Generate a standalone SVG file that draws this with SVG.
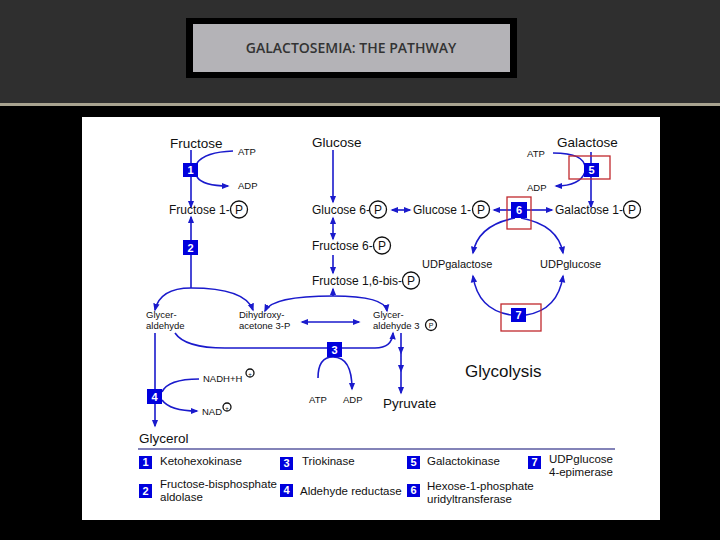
<svg xmlns="http://www.w3.org/2000/svg" width="720" height="540" viewBox="0 0 720 540">
<defs>
<marker id="ah" viewBox="0 0 10 10" refX="8" refY="5" markerWidth="5" markerHeight="5" orient="auto-start-reverse"><path d="M0,1 L10,5 L0,9 z" fill="#1a1acc"/></marker>
<style>
.t{font-family:"Liberation Sans",Arial,sans-serif;fill:#111}
.m{font-size:12px}.s{font-size:9.5px}.l{font-size:11.5px}.b{font-size:13.5px}
.c{fill:none;stroke:#1a1acc;stroke-width:1.6}
.a{marker-end:url(#ah)}.a2{marker-start:url(#ah);marker-end:url(#ah)}
.bx{fill:#0000dd}.bn{font-family:"Liberation Sans",Arial,sans-serif;font-weight:bold;font-size:11px;fill:#fff;text-anchor:middle}
.p{fill:#fff;stroke:#111;stroke-width:1.3}
.r{fill:none;stroke:#c0282d;stroke-width:1.3}
</style>
</defs>
<rect width="720" height="540" fill="#000"/>
<rect width="720" height="103" fill="#2f2f2f"/>
<rect y="103" width="720" height="3" fill="#a8a390"/>
<rect x="186" y="18" width="331" height="60" fill="#000"/>
<rect x="193" y="24" width="317" height="48" fill="#b4b3b7"/>
<text x="351" y="53" text-anchor="middle" style="font-family:'Open Sans',sans-serif;font-size:14px;font-weight:600;fill:#333">GALACTOSEMIA: THE PATHWAY</text>
<rect x="82" y="117" width="578" height="403" fill="#fff"/>

<g id="connectors">
<path class="c a" d="M191,150 V207"/>
<path class="c" d="M233,151 Q205,152 197,163"/>
<path class="c a" d="M197,177 Q203,186 228,186"/>
<path class="c a" d="M191,288 V217"/>
<path class="c a" d="M191,288 Q160,288 155,310"/>
<path class="c a" d="M191,288 Q245,288 253,310"/>
<path class="c a" d="M333,150 V202"/>
<path class="c a2" d="M333,218 V239"/>
<path class="c a" d="M333,255 V273"/>
<path class="c a" d="M333,296 V289"/>
<path class="c a" d="M333,296 Q272,296 265,311"/>
<path class="c a" d="M333,296 Q385,296 387,311"/>
<path class="c a2" d="M302,322 H359"/>
<path class="c" d="M175,333 Q185,348 225,348 H327"/>
<path class="c a" d="M342,348 H375 Q392,348 393,333"/>
<path class="c" d="M318,378 Q318,357 333,357"/>
<path class="c a" d="M333,357 Q352,357 352,389"/>
<path class="c a" d="M401,333 V353"/>
<path class="c a" d="M401,353 V371"/>
<path class="c a" d="M401,371 V393"/>
<path class="c a" d="M155,333 V426"/>
<path class="c" d="M199,379 Q168,379 162,392"/>
<path class="c a" d="M162,400 Q170,411 197,411"/>
<path class="c a" d="M591,152 V207"/>
<path class="c" d="M553,153 Q585,153 585,168"/>
<path class="c a" d="M585,172 Q580,186 556,186"/>
<path class="c a2" d="M392,210 H410"/>
<path class="c a" d="M511,210 H494"/>
<path class="c a" d="M527,210 H552"/>
<path class="c a" d="M515,218 Q478,225 473,253"/>
<path class="c a" d="M521,218 Q558,225 563,253"/>
<path class="c a" d="M511,315 Q478,310 473,276"/>
<path class="c a" d="M526,315 Q558,310 563,276"/>
<path d="M138,449 H615" stroke="#5a5aa0" stroke-width="1.5"/>
</g>

<g id="fructose"><text class="t b" x="170" y="148">Fructose</text></g>
<g id="k1"><rect class="bx" x="183" y="163" width="15" height="14"/><text class="bn" x="190.5" y="174">1</text></g>
<g id="atp1"><text class="t s" x="238" y="155">ATP</text></g>
<g id="adp1"><text class="t s" x="238" y="189">ADP</text></g>
<g id="f1p"><text class="t m" x="169" y="214">Fructose 1-</text><circle class="p" cx="239" cy="209.5" r="8.5"/><text class="t m" x="239" y="214" text-anchor="middle">P</text></g>
<g id="k2"><rect class="bx" x="183" y="240" width="15" height="15"/><text class="bn" x="190.5" y="252">2</text></g>
<g id="glucose"><text class="t b" x="312" y="147">Glucose</text></g>
<g id="g6p"><text class="t m" x="312" y="214">Glucose 6-</text><circle class="p" cx="378" cy="209.5" r="8.5"/><text class="t m" x="378" y="214" text-anchor="middle">P</text></g>
<g id="f6p"><text class="t m" x="312" y="250">Fructose 6-</text><circle class="p" cx="382" cy="245.5" r="8.5"/><text class="t m" x="382" y="250" text-anchor="middle">P</text></g>
<g id="f16p"><text class="t m" x="312" y="285">Fructose 1,6-bis-</text><circle class="p" cx="411" cy="280.5" r="8.5"/><text class="t m" x="411" y="285" text-anchor="middle">P</text></g>
<g id="glyceraldehyde"><text class="t s" x="146" y="318">Glycer-</text><text class="t s" x="146" y="329">aldehyde</text></g>
<g id="dhap"><text class="t s" x="239" y="318">Dihydroxy-</text><text class="t s" x="239" y="329">acetone 3-P</text></g>
<g id="g3p"><text class="t s" x="373" y="318">Glycer-</text><text class="t s" x="373" y="329">aldehyde 3</text><circle class="p" cx="431" cy="325" r="5.5"/><text class="t" x="431" y="328" text-anchor="middle" font-size="7">P</text></g>
<g id="k3"><rect class="bx" x="327" y="342" width="15" height="15"/><text class="bn" x="334.5" y="354">3</text></g>
<g id="atp3"><text class="t s" x="309" y="403">ATP</text></g>
<g id="adp3"><text class="t s" x="343" y="403">ADP</text></g>
<g id="pyruvate"><text class="t b" x="383" y="408">Pyruvate</text></g>
<g id="k4"><rect class="bx" x="147" y="389" width="15" height="15"/><text class="bn" x="154.5" y="401">4</text></g>
<g id="nadh"><text class="t s" x="203" y="382">NADH+H</text><circle class="p" cx="250" cy="373" r="4"/><text class="t" x="250" y="375.5" text-anchor="middle" font-size="6">+</text></g>
<g id="nad"><text class="t s" x="202" y="415">NAD</text><circle class="p" cx="227" cy="407" r="4"/><text class="t" x="227" y="409.5" text-anchor="middle" font-size="6">+</text></g>
<g id="glycerol"><text class="t b" x="139" y="443">Glycerol</text></g>
<g id="galactose"><text class="t b" x="557" y="147">Galactose</text></g>
<g id="atp5"><text class="t s" x="527" y="157">ATP</text></g>
<g id="adp5"><text class="t s" x="527" y="191">ADP</text></g>
<g id="k5"><rect class="r" x="569" y="156" width="41" height="23"/><rect class="bx" x="584" y="163" width="15" height="14"/><text class="bn" x="591.5" y="174">5</text></g>
<g id="gal1p"><text class="t m" x="555" y="214">Galactose 1-</text><circle class="p" cx="632" cy="209.5" r="8.5"/><text class="t m" x="632" y="214" text-anchor="middle">P</text></g>
<g id="glc1p"><text class="t m" x="413" y="214">Glucose 1-</text><circle class="p" cx="481" cy="209.5" r="8.5"/><text class="t m" x="481" y="214" text-anchor="middle">P</text></g>
<g id="k6"><rect class="r" x="507" y="197" width="24" height="32"/><rect class="bx" x="511" y="202" width="16" height="16"/><text class="bn" x="519" y="214">6</text></g>
<g id="udpgal"><text class="t" x="422" y="268" font-size="11">UDPgalactose</text></g>
<g id="udpglc"><text class="t" x="540" y="268" font-size="11">UDPglucose</text></g>
<g id="k7"><rect class="r" x="501" y="304" width="40" height="27"/><rect class="bx" x="511" y="308" width="15" height="14"/><text class="bn" x="518.5" y="319">7</text></g>
<g id="glycolysis"><text class="t" x="465" y="377" font-size="17">Glycolysis</text></g>

<g id="legend">
<rect class="bx" x="139" y="456" width="13" height="13"/><text class="bn" x="145.5" y="466">1</text><text class="t l" x="160" y="465">Ketohexokinase</text>
<rect class="bx" x="139" y="484" width="13" height="14"/><text class="bn" x="145.5" y="495">2</text><text class="t l" x="160" y="488">Fructose-bisphosphate</text><text class="t l" x="160" y="501">aldolase</text>
<rect class="bx" x="280" y="457" width="13" height="13"/><text class="bn" x="286.5" y="467">3</text><text class="t l" x="302" y="465">Triokinase</text>
<rect class="bx" x="280" y="484" width="13" height="13"/><text class="bn" x="286.5" y="494">4</text><text class="t l" x="300" y="495">Aldehyde reductase</text>
<rect class="bx" x="407" y="456" width="13" height="13"/><text class="bn" x="413.5" y="466">5</text><text class="t l" x="427" y="465">Galactokinase</text>
<rect class="bx" x="407" y="484" width="13" height="13"/><text class="bn" x="413.5" y="494">6</text><text class="t l" x="427" y="490">Hexose-1-phosphate</text><text class="t l" x="427" y="503">uridyltransferase</text>
<rect class="bx" x="528" y="456" width="13" height="13"/><text class="bn" x="534.5" y="466">7</text><text class="t l" x="549" y="463">UDPglucose</text><text class="t l" x="549" y="476">4-epimerase</text>
</g>
</svg>
